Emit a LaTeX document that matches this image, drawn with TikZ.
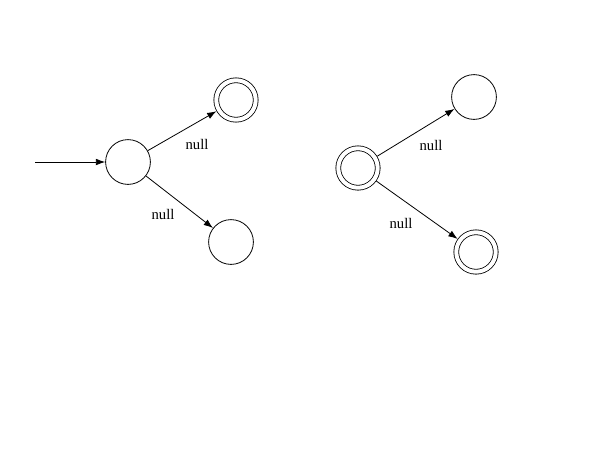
\documentclass[tikz,border=0pt]{standalone}
\usepackage{fontspec}
\setmainfont{Liberation Serif}
\usetikzlibrary{arrows.meta}
\begin{document}
\begin{tikzpicture}[x=0.75pt,y=-0.75pt,
  state/.style={circle,draw,line width=0.6pt,minimum size=33.6pt,inner sep=0pt},
  accept/.style={circle,draw,line width=0.6pt,double,double distance=3pt,minimum size=29.6pt,inner sep=0pt,outer sep=2.1pt},
  edge/.style={-{Latex[length=7pt,width=5pt]},line width=0.6pt},
  lbl/.style={font=\fontsize{11pt}{13pt}\selectfont,inner sep=0pt}]
\useasboundingbox (0,0) rectangle (600,450);
% left group
\coordinate (in) at (35,162);
\node[state] (s0) at (128,162) {};
\node[accept] (s1) at (236,100) {};
\node[state] (s2) at (231,242) {};
\draw[edge] (in) -- (s0);
\draw[edge] (s0) -- (s1);
\draw[edge] (s0) -- (s2);
\node[lbl] (l1) at (197,144) {null};
\node[lbl] (l2) at (163,214) {null};
% right group
\node[accept] (t0) at (358,168) {};
\node[state] (t1) at (474,97) {};
\node[accept] (t2) at (476,252) {};
\draw[edge] (t0) -- (t1);
\draw[edge] (t0) -- (t2);
\node[lbl] (l3) at (431,145) {null};
\node[lbl] (l4) at (401,223) {null};
\end{tikzpicture}
\end{document}
